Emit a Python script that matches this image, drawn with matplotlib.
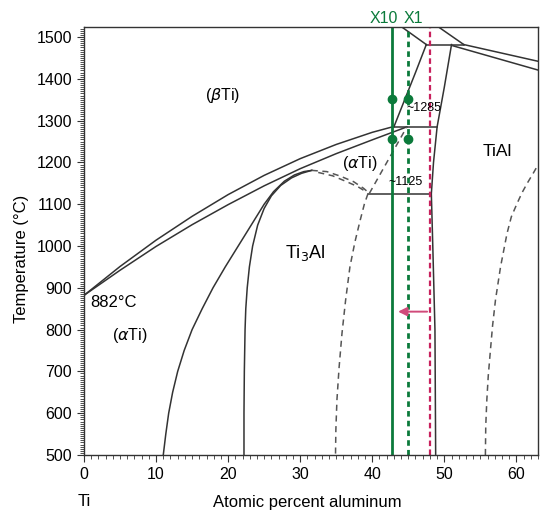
import numpy as np
import matplotlib.pyplot as plt
from matplotlib.ticker import MultipleLocator

plt.rcParams['font.family'] = ['Liberation Sans', 'DejaVu Sans']
plt.rcParams['mathtext.fontset'] = 'dejavusans'

# --------------------------
# phase boundaries (at.% Al, deg C)
# --------------------------
beta_upper_x = [0, 5, 10, 15, 20, 25, 30, 35, 40, 43]
beta_upper_t = [882, 951, 1014, 1071, 1123, 1169, 1209, 1243, 1272, 1286]
beta_lower_x = [0, 5, 10, 15, 20, 25, 30, 35, 40, 44.8]
beta_lower_t = [882, 942, 999, 1051, 1099, 1144, 1185, 1221, 1254, 1285]

ti3al_left_x = [11.0, 11.35, 11.75, 12.3, 13.0, 13.9, 15.0, 16.4, 17.9, 19.6,
                21.4, 23.2, 25.0, 26.3, 27.8, 29.2, 30.5, 31.6]
ti3al_left_t = [500, 550, 600, 650, 700, 750, 800, 850, 900, 950,
                1000, 1050, 1100, 1130, 1155, 1170, 1178, 1181]
ti3al_right_x = [22.2, 22.2, 22.25, 22.35, 22.45, 22.65, 22.95, 23.4, 24.1,
                 25.0, 26.0, 27.3, 28.8, 30.2, 31.6]
ti3al_right_t = [500, 600, 700, 800, 850, 900, 950, 1000, 1050,
                 1090, 1120, 1145, 1163, 1174, 1181]

dome_upper_x = [31.6, 33.7, 35.6, 37.4, 38.8, 39.6]
dome_upper_t = [1181, 1178, 1167, 1154, 1138, 1126]
dome_lower_x = [32.5, 34.5, 36.3, 38.0, 39.3]
dome_lower_t = [1176, 1168, 1155, 1142, 1128]

a2_bound_x = [39.4, 38.9, 38.3, 37.6, 36.9, 36.3, 35.8, 35.4, 35.1, 34.95, 34.9]
a2_bound_t = [1125, 1100, 1060, 1010, 950, 870, 791, 710, 632, 560, 500]
alpha_gamma_x = [39.6, 44.8]
alpha_gamma_t = [1126, 1285]
gamma_right_x = [55.7, 55.75, 55.9, 56.1, 56.4, 56.7, 57.1, 57.8, 58.7, 59.3,
                 60.1, 60.8, 61.5, 62.3, 63.0]
gamma_right_t = [500, 570, 632, 690, 751, 810, 871, 950, 1030, 1070,
                 1102, 1128, 1150, 1173, 1194]

alpha_left_x = [43.0, 44.5, 46.0, 47.5]
alpha_left_t = [1285, 1350, 1415, 1482]
gamma_left_x = [51.0, 50.0, 49.0, 48.5, 48.2, 48.4, 48.7, 48.8]
gamma_left_t = [1482, 1380, 1285, 1200, 1125, 1000, 800, 500]
liq1_x, liq1_t = [44.1, 47.5], [1524, 1482]
liq2_x, liq2_t = [49.2, 52.7], [1524, 1482]
top_upper_x, top_upper_t = [52.7, 63.0], [1482, 1442]
top_lower_x, top_lower_t = [51.2, 63.0], [1479, 1421]

iso_1482 = ([47.5, 52.7], 1482)
iso_1285 = ([42.9, 49.0], 1285)
iso_1125 = ([39.4, 48.2], 1125)

# alloy compositions
x10_al = 42.8
x1_al = 45.0
red_al = 48.0
dot_temps = [1352, 1256]
arrow_t = 843

green = '#0b7a3b'
red = '#c8205c'
grey = '#555555'

fig = plt.figure(figsize=(5.5, 5.14), dpi=100)
ax = fig.add_axes([84 / 550, 1 - 455 / 514, (538 - 84) / 550, (455 - 27) / 514])

lw = 1.1
for xs, ts in [(beta_upper_x, beta_upper_t), (beta_lower_x, beta_lower_t),
               (ti3al_left_x, ti3al_left_t), (ti3al_right_x, ti3al_right_t),
               (alpha_left_x, alpha_left_t), (gamma_left_x, gamma_left_t),
               (liq1_x, liq1_t), (liq2_x, liq2_t),
               (top_upper_x, top_upper_t), (top_lower_x, top_lower_t)]:
    ax.plot(xs, ts, color='#333333', lw=lw)

for xs, t in [iso_1482, iso_1285, iso_1125]:
    ax.plot(xs, [t, t], color='#333333', lw=lw)

for xs, ts in [(dome_upper_x, dome_upper_t), (dome_lower_x, dome_lower_t),
               (a2_bound_x, a2_bound_t), (alpha_gamma_x, alpha_gamma_t),
               (gamma_right_x, gamma_right_t)]:
    ax.plot(xs, ts, color=grey, lw=lw, ls=(0, (4, 3)))

# alloy lines
ax.axvline(x10_al, color=green, lw=2.0)
ax.axvline(x1_al, color=green, lw=2.0, ls=(0, (2, 1.5)))
ax.axvline(red_al, color=red, lw=1.6, ls=(0, (2.5, 1.5)))
ax.plot([x10_al] * 2, dot_temps, 'o', color=green, ms=6)
ax.plot([x1_al] * 2, dot_temps, 'o', color=green, ms=6)
ax.annotate('', xy=(43.2, arrow_t), xytext=(red_al, arrow_t),
            arrowprops=dict(arrowstyle='-|>', color='#d04a7a', lw=1.4, mutation_scale=13))

# labels
ax.text(41.6, 1545, 'X10', color=green, fontsize=11.5, ha='center', va='center', clip_on=False)
ax.text(45.7, 1545, 'X1', color=green, fontsize=11.5, ha='center', va='center', clip_on=False)
ax.text(19.2, 1359, r'($\beta$Ti)', fontsize=11.5, ha='center', va='center')
ax.text(38.3, 1198, r'($\alpha$Ti)', fontsize=11.5, ha='center', va='center')
ax.text(6.3, 785, r'($\alpha$Ti)', fontsize=11.5, ha='center', va='center')
ax.text(0.8, 864, '882\u00b0C', fontsize=12, ha='left', va='center')
ax.text(30.7, 983, r'Ti$_3$Al', fontsize=13, ha='center', va='center')
ax.text(57.4, 1225, 'TiAl', fontsize=12.5, ha='center', va='center')
ax.text(44.6, 1153, '~1125', fontsize=9, ha='center', va='center')
ax.text(47.2, 1330, '~1285', fontsize=9, ha='center', va='center')

ax.set_xlim(0, 63)
ax.set_ylim(500, 1524)
ax.xaxis.set_major_locator(MultipleLocator(10))
ax.xaxis.set_minor_locator(MultipleLocator(1))
ax.yaxis.set_major_locator(MultipleLocator(100))
ax.yaxis.set_minor_locator(MultipleLocator(5))
ax.tick_params(which='major', length=5, labelsize=11.5, color='#333333')
ax.tick_params(which='minor', length=3, color='#333333')
for s in ax.spines.values():
    s.set_color('#333333')
    s.set_linewidth(1.0)

fig.text(84 / 550, 1 - 502 / 514, 'Ti', fontsize=12, ha='center', va='center')
fig.text(307 / 550, 1 - 502 / 514, 'Atomic percent aluminum', fontsize=12, ha='center', va='center')
fig.text(22 / 550, 1 - 259 / 514, 'Temperature (\u00b0C)', fontsize=12, ha='center', va='center',
         rotation=90)

fig.savefig('out.png', dpi=100)
